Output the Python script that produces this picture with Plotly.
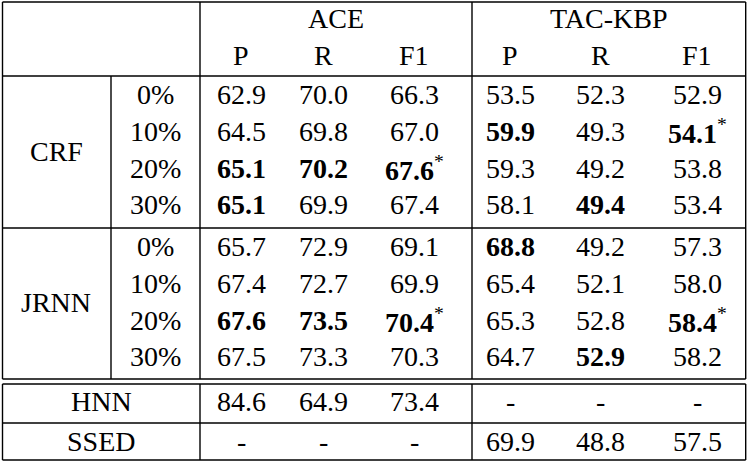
import plotly.graph_objects as go

# table content
datasets = ["ACE", "TAC-KBP"]
metrics = ["P", "R", "F1"]
systems = ["CRF", "JRNN"]
ratios = ["0%", "10%", "20%", "30%"]

crf_ace = [[62.9, 70.0, 66.3], [64.5, 69.8, 67.0], [65.1, 70.2, 67.6], [65.1, 69.9, 67.4]]
crf_tac = [[53.5, 52.3, 52.9], [59.9, 49.3, 54.1], [59.3, 49.2, 53.8], [58.1, 49.4, 53.4]]
jrnn_ace = [[65.7, 72.9, 69.1], [67.4, 72.7, 69.9], [67.6, 73.5, 70.4], [67.5, 73.3, 70.3]]
jrnn_tac = [[68.8, 49.2, 57.3], [65.4, 52.1, 58.0], [65.3, 52.8, 58.4], [64.7, 52.9, 58.2]]

baselines = ["HNN", "SSED"]
hnn = [84.6, 64.9, 73.4, None, None, None]
ssed = [None, None, None, 69.9, 48.8, 57.5]

# (system, ratio row, column) of bold cells and of starred cells
bold_cells = [(0, 2, 0), (0, 2, 1), (0, 2, 2), (0, 3, 0), (0, 1, 3), (0, 1, 5), (0, 3, 4),
              (1, 0, 3), (1, 2, 0), (1, 2, 1), (1, 2, 2), (1, 2, 5), (1, 3, 4)]
star_cells = [(0, 2, 2), (0, 1, 5), (1, 2, 2), (1, 2, 5)]

# layout grid (pixels)
W, H = 749, 464
col_x = [241, 323, 414, 510, 600, 697]
ratio_x = 155
sys_x = 56
row_y = [[94, 131, 168, 204], [246, 283, 320, 356]]
sys_y = [151, 302]
base_y = [401, 441]
head_y = [18, 55]
group_x = [336, 609]

FONT = "Liberation Serif"
FS = 28

fig = go.Figure()
fig.add_trace(go.Scatter(x=[0, W], y=[0, H], mode="markers", marker=dict(opacity=0),
                         hoverinfo="skip", showlegend=False))

ann = []
def txt(x, y, s):
    ann.append(dict(x=x, y=y, text=s, showarrow=False, xanchor="center", yanchor="middle",
                    font=dict(family=FONT, size=FS, color="black")))

for g, name in enumerate(datasets):
    txt(group_x[g], head_y[0], name)
    for m, met in enumerate(metrics):
        txt(col_x[g * 3 + m], head_y[1], met)

for s, sysname in enumerate(systems):
    txt(sys_x, sys_y[s], sysname)
    ace = [crf_ace, jrnn_ace][s]
    tac = [crf_tac, jrnn_tac][s]
    for r, ratio in enumerate(ratios):
        txt(ratio_x, row_y[s][r], ratio)
        vals = ace[r] + tac[r]
        for c, v in enumerate(vals):
            label = "%.1f" % v
            if (s, r, c) in bold_cells:
                label = "<b>%s</b>" % label
            if (s, r, c) in star_cells:
                label += "<sup>*</sup>"
            txt(col_x[c], row_y[s][r], label)

for b, name in enumerate(baselines):
    txt(101, base_y[b], name)
    vals = [hnn, ssed][b]
    for c, v in enumerate(vals):
        txt(col_x[c], base_y[b], "-" if v is None else "%.1f" % v)

# rules
L, R = 2.5, 745.7
shapes = []
def line(x0, y0, x1, y1):
    shapes.append(dict(type="line", x0=x0, y0=y0, x1=x1, y1=y1,
                       line=dict(color="black", width=1.4)))

for y in [2, 76, 228, 379, 384, 423, 460]:
    line(L, y, R, y)
for x in [L, 200, 472, R]:
    line(x, 2, x, 379)
    line(x, 384, x, 460)
line(111, 76, 111, 379)

fig.update_layout(
    width=W, height=H,
    margin=dict(l=0, r=0, t=0, b=0),
    paper_bgcolor="white", plot_bgcolor="white",
    xaxis=dict(range=[0, W], visible=False, fixedrange=True),
    yaxis=dict(range=[H, 0], visible=False, fixedrange=True),
    annotations=ann, shapes=shapes, showlegend=False,
)

fig.write_html("out.html", config={"displayModeBar": False},
               post_script="document.body.style.margin='0';")
